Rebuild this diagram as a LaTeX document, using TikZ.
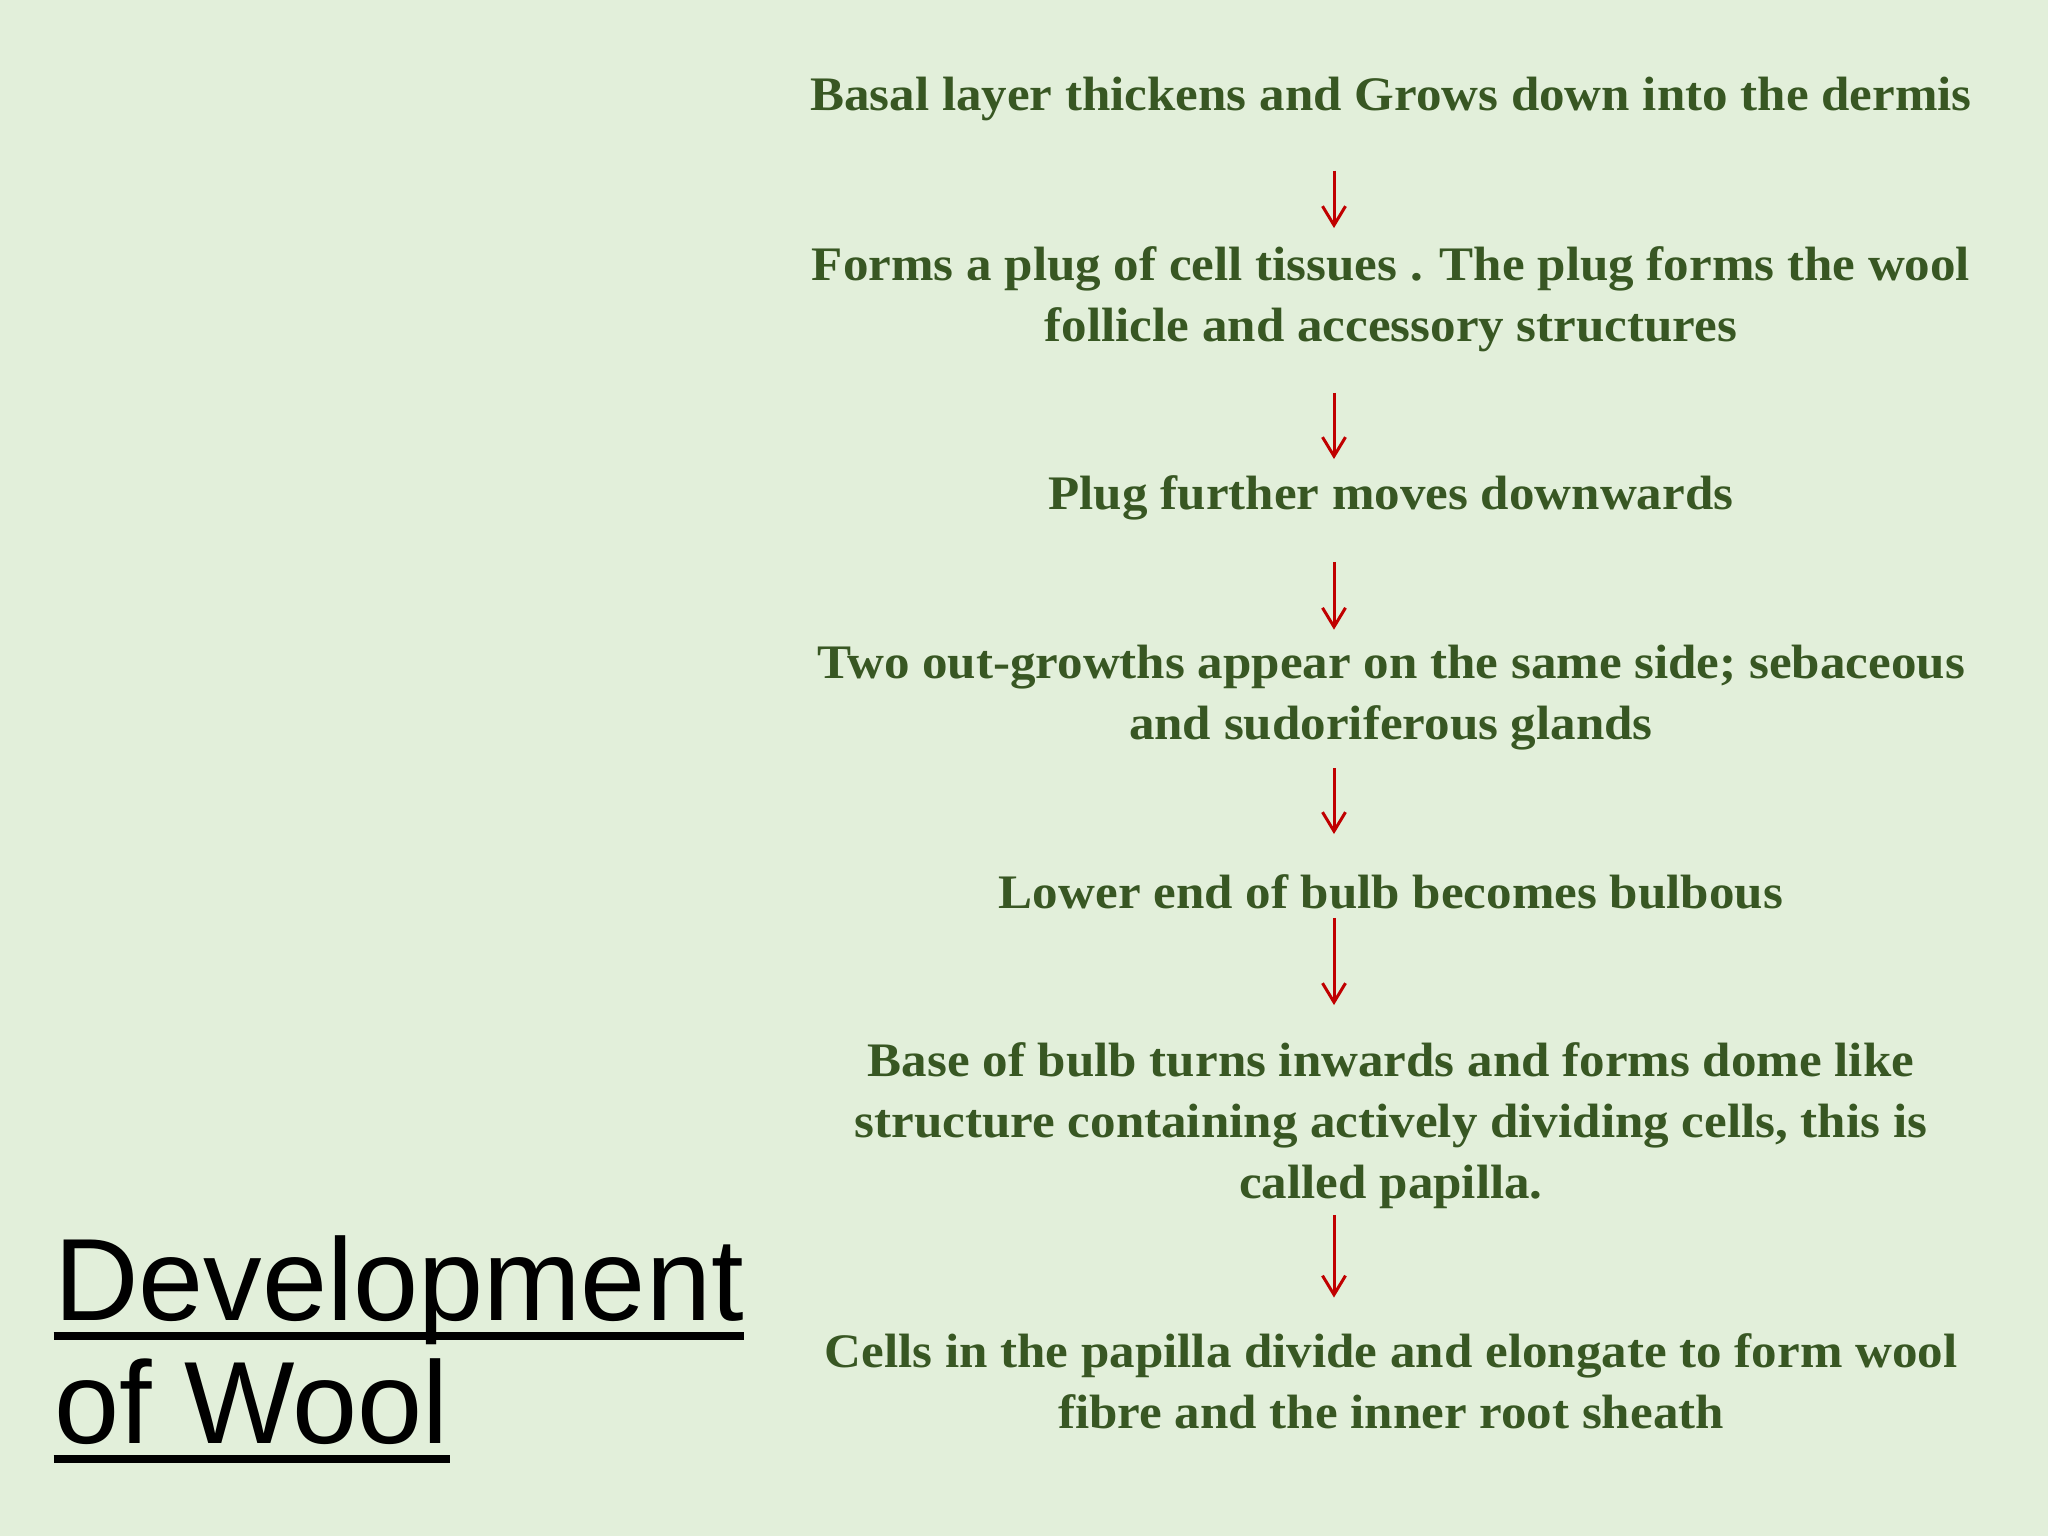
\documentclass[tikz,border=0pt]{standalone}
\usepackage{xcolor}
\usepackage{fontspec}
\usepackage{tikz}
\usetikzlibrary{arrows.meta}
\setmainfont{Liberation Serif}
\newfontfamily\stepfont[FakeStretch=1.06]{Liberation Serif}
\newfontfamily\titlefont{Liberation Sans}

\definecolor{slidebg}{RGB}{226,239,218}
\definecolor{stepgreen}{RGB}{56,87,35}
\definecolor{arrowred}{RGB}{192,0,0}

\begin{document}
\begin{tikzpicture}
			\tikzstyle{stepbox} = [inner sep=0pt, align=center, text=stepgreen, font=\stepfont\fontsize{13.7}{17.4}\selectfont\bfseries]
			\tikzstyle{heading} = [inner sep=0pt, anchor=base west, font=\titlefont\fontsize{33.3}{35}\selectfont]
			\tikzstyle{uline} = [line width=0.08cm]
			\tikzset{flow/.style = {draw=arrowred, line width=0.03cm, -{Straight Barb[length=0.19cm, width=0.23cm]}}}
			
			\fill[slidebg] (0,0) rectangle (20.48,-15.36);
			\useasboundingbox (0,0) rectangle (20.48,-15.36);
			
			% flow of steps
			\node[stepbox](basal) at (13.91,-0.99) {Basal layer thickens and Grows down into the dermis};
			\node[stepbox](plug) at (13.91,-2.995) {Forms a plug of cell tissues . The plug forms the wool\\follicle and accessory structures};
			\node[stepbox](moves) at (13.91,-4.98) {Plug further moves downwards};
			\node[stepbox](outgrowth) at (13.91,-6.98) {Two out-growths appear on the same side; sebaceous\\and sudoriferous glands};
			\node[stepbox](lowerend) at (13.91,-8.92) {Lower end of bulb becomes bulbous};
			\node[stepbox](papilla) at (13.91,-11.26) {Base of bulb turns inwards and forms dome like\\structure containing actively dividing cells, this is\\called papilla.};
			\node[stepbox](fibre) at (13.91,-13.815) {Cells in the papilla divide and elongate to form wool\\fibre and the inner root sheath};
			
			\coordinate (axis) at (13.34,0);
			\draw[flow, shorten <=0.49cm, shorten >=0.18cm](basal.south -| axis) to (plug.north -| axis);
			\draw[flow, shorten <=0.40cm, shorten >=0.16cm](plug.south -| axis) to (moves.north -| axis);
			\draw[flow, shorten <=0.41cm, shorten >=0.15cm](moves.south -| axis) to (outgrowth.north -| axis);
			\draw[flow, shorten <=0.17cm, shorten >=0.40cm](outgrowth.south -| axis) to (lowerend.north -| axis);
			\draw[flow, shorten <=0.08cm, shorten >=0.37cm](lowerend.south -| axis) to (papilla.north -| axis);
			\draw[flow, shorten <=0.05cm, shorten >=0.355cm](papilla.south -| axis) to (fibre.north -| axis);
			
			% title
			\node[heading](titleA) at (0.535,-13.20) {Development};
			\node[heading](titleB) at (0.535,-14.43) {of Wool};
			\draw[uline]([yshift=-0.16cm]titleA.base west) to ([yshift=-0.16cm]titleA.base east);
			\draw[uline]([yshift=-0.16cm]titleB.base west) to ([yshift=-0.16cm]titleB.base east);
			
			\end{tikzpicture}
\end{document}
